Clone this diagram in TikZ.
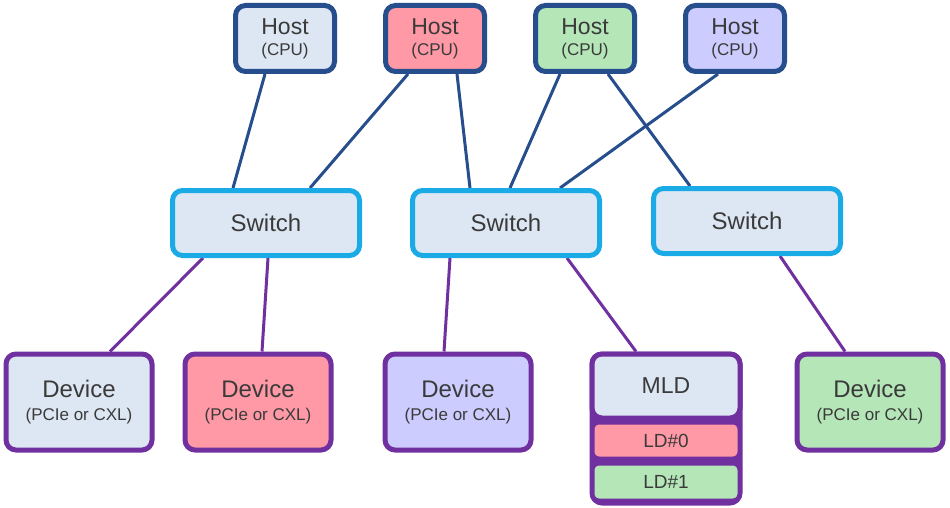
\documentclass[tikz,border=0pt]{standalone}
\usepackage{fontspec}
\setmainfont{Liberation Sans}
\usetikzlibrary{backgrounds}
\definecolor{hostb}{HTML}{264D8C}
\definecolor{swb}{HTML}{1AAAE6}
\definecolor{devb}{HTML}{7030A0}
\definecolor{fblue}{HTML}{DDE7F3}
\definecolor{fpink}{HTML}{FF99A6}
\definecolor{fgreen}{HTML}{B5E6B8}
\definecolor{flav}{HTML}{CCCCFF}
\definecolor{txt}{HTML}{3A3A3A}
\newcommand{\subtxt}[1]{{\fontsize{17}{19}\selectfont #1}}
\begin{document}
\begin{tikzpicture}[x=1pt,y=-1pt,
  box/.style={rounded corners=10pt, line width=5pt, align=center, text=txt, inner sep=0pt},
  hostbox/.style={box, draw=hostb, minimum width=99pt, minimum height=66pt, font=\fontsize{23}{24}\selectfont},
  swbox/.style={box, draw=swb, fill=fblue, minimum width=187pt, minimum height=65pt, font=\fontsize{24}{26}\selectfont},
  devbox/.style={box, draw=devb, minimum width=146pt, minimum height=96pt, font=\fontsize{24}{26}\selectfont},
  ldbox/.style={box, draw=devb, line width=3pt, rounded corners=6pt, minimum width=146pt, font=\fontsize{19}{21}\selectfont},
  hl/.style={draw=hostb, line width=3pt},
  dl/.style={draw=devb, line width=3pt}]
\useasboundingbox (0,0) rectangle (950,508);
% hosts
\node[hostbox, fill=fblue] (h1) at (285,38.5) {Host\\[-3pt]\subtxt{(CPU)}};
\node[hostbox, fill=fpink] (h2) at (435,38.5) {Host\\[-3pt]\subtxt{(CPU)}};
\node[hostbox, fill=fgreen] (h3) at (585,38.5) {Host\\[-3pt]\subtxt{(CPU)}};
\node[hostbox, fill=flav] (h4) at (735,38.5) {Host\\[-3pt]\subtxt{(CPU)}};
% switches
\node[swbox] (s1) at (266,223) {Switch};
\node[swbox] (s2) at (506,223) {Switch};
\node[swbox] (s3) at (747,221) {Switch};
% devices
\node[devbox, fill=fblue] (d1) at (79,402) {Device\\[-3pt]\subtxt{(PCIe or CXL)}};
\node[devbox, fill=fpink] (d2) at (258,402) {Device\\[-3pt]\subtxt{(PCIe or CXL)}};
\node[devbox, fill=flav] (d3) at (458,402) {Device\\[-3pt]\subtxt{(PCIe or CXL)}};
\node[devbox, fill=fgreen] (d5) at (870,402) {Device\\[-3pt]\subtxt{(PCIe or CXL)}};
% MLD
\node[box, draw=devb, fill=devb, minimum width=148pt, minimum height=149pt] (mldouter) at (666,428.5) {};
\node[box, draw=devb, fill=fblue, minimum width=148pt, minimum height=64pt, font=\fontsize{23}{25}\selectfont] (mld) at (666,386) {MLD};
\node[ldbox, fill=fpink, minimum height=35pt] (ld0) at (666,440.5) {LD\#0};
\node[ldbox, fill=fgreen, minimum height=36pt] (ld1) at (666,482) {LD\#1};
% connectors
\begin{scope}[on background layer]
\draw[hl] ([xshift=-20pt]h1.south) -- ([xshift=-33pt]s1.north);
\draw[hl] ([xshift=-27pt]h2.south) -- ([xshift=44pt]s1.north);
\draw[hl] ([xshift=22pt]h2.south) -- ([xshift=-36pt]s2.north);
\draw[hl] ([xshift=-25pt]h3.south) -- ([xshift=4pt]s2.north);
\draw[hl] ([xshift=23pt]h3.south) -- ([xshift=-57pt]s3.north);
\draw[hl] ([xshift=-17pt]h4.south) -- ([xshift=54pt]s2.north);
\draw[dl] ([xshift=-63pt]s1.south) -- ([xshift=31pt]d1.north);
\draw[dl] ([xshift=2pt]s1.south) -- ([xshift=4pt]d2.north);
\draw[dl] ([xshift=-56pt]s2.south) -- ([xshift=-14pt]d3.north);
\draw[dl] ([xshift=61pt]s2.south) -- ([xshift=-30pt]mldouter.north);
\draw[dl] ([xshift=33pt]s3.south) -- ([xshift=-25pt]d5.north);
\end{scope}
\end{tikzpicture}
\end{document}
